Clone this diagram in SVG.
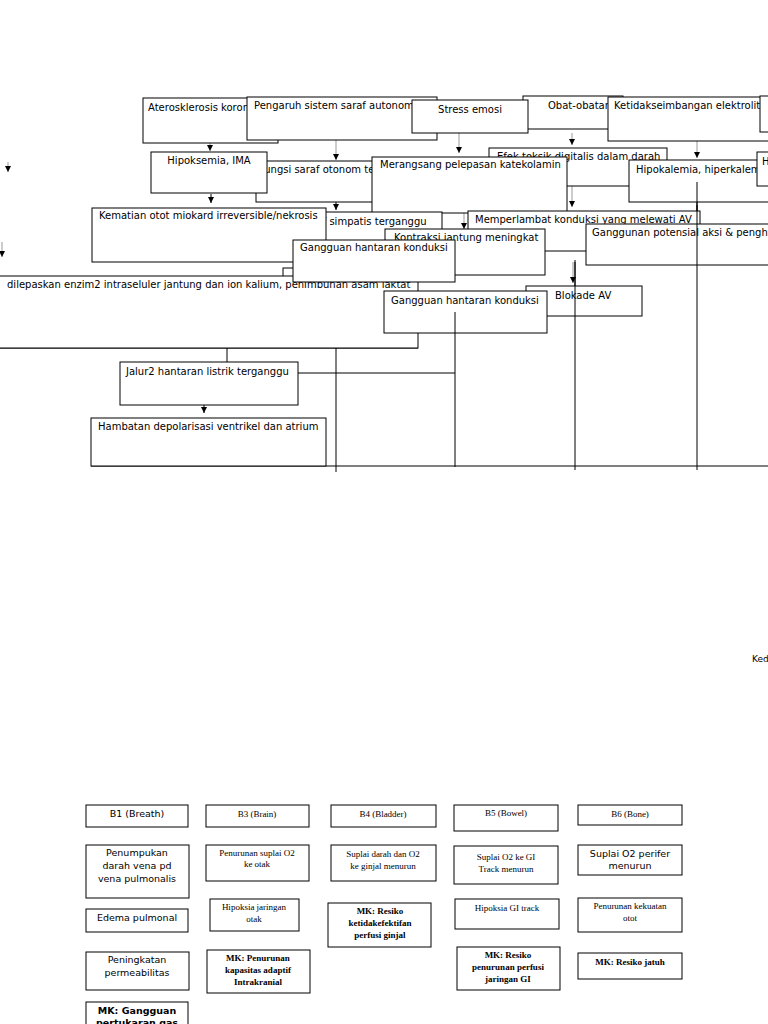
<svg xmlns="http://www.w3.org/2000/svg" width="768" height="1024" viewBox="0 0 768 1024">
<style>
rect{fill:#fff;stroke:#000;stroke-width:1}
text{font-family:"DejaVu Sans",sans-serif;font-size:10px;fill:#000}
.s{font-family:"Liberation Serif",serif;font-size:9px;text-anchor:middle}
.b{font-weight:bold}
.c{text-anchor:middle}
.l{stroke:#000;stroke-width:1;fill:none}
.g{stroke:#999;stroke-width:1}
</style>
<defs><marker id="a" markerWidth="6" markerHeight="6" refX="3" refY="5" orient="auto" markerUnits="userSpaceOnUse"><path d="M0,0 L6,0 L3,6 Z" fill="#000" transform="rotate(-90 3 3)"/></marker>
<marker id="d" markerWidth="6" markerHeight="6" refX="3" refY="6" markerUnits="userSpaceOnUse"><path d="M0,0 L6,0 L3,6 Z" fill="#000"/></marker></defs>
<rect x="-2" y="-2" width="772" height="1028" style="fill:#fff;stroke:none"/>
<g id="connectors">
<line class="l" x1="91" y1="466" x2="768" y2="466"/>
<line class="l" x1="336" y1="328" x2="336" y2="472"/>
<line class="l" x1="455" y1="312" x2="455" y2="467"/>
<line class="l" x1="575" y1="260" x2="575" y2="470"/>
<line class="l" x1="697" y1="182" x2="697" y2="470"/>
<line class="l" x1="298" y1="373" x2="455" y2="373"/>
<line class="l" x1="0" y1="348" x2="418" y2="348"/>
<line class="l" x1="227" y1="348" x2="227" y2="362"/>
<line class="g" x1="210" y1="143" x2="210" y2="151" marker-end="url(#d)"/>
<line class="g" x1="336" y1="140" x2="336" y2="160" marker-end="url(#d)"/>
<line class="g" x1="459" y1="133" x2="459" y2="153" marker-end="url(#d)"/>
<line class="g" x1="572" y1="133" x2="572" y2="145" marker-end="url(#d)"/>
<line class="g" x1="697" y1="141" x2="697" y2="158" marker-end="url(#d)"/>
<line class="l" x1="211" y1="194" x2="211" y2="203" marker-end="url(#d)"/>
<line class="l" x1="336" y1="196" x2="336" y2="210" marker-end="url(#d)"/>
<line class="l" x1="260" y1="172" x2="260" y2="187" marker-end="url(#d)"/>
<line class="g" x1="8" y1="162" x2="8" y2="172" marker-end="url(#d)"/>
<line class="g" x1="2" y1="242" x2="2" y2="257" marker-end="url(#d)"/>
<line class="g" x1="464" y1="208" x2="464" y2="229" marker-end="url(#d)"/>
<line class="g" x1="572" y1="186" x2="572" y2="207" marker-end="url(#d)"/>
<line class="g" x1="573" y1="262" x2="573" y2="283" marker-end="url(#d)"/>
<line class="l" x1="697" y1="205" x2="697" y2="217" marker-end="url(#d)"/>
<line class="l" x1="204" y1="405" x2="204" y2="413" marker-end="url(#d)"/>
</g>
<g id="n1"><rect x="143" y="98" width="135" height="45"/><text x="148" y="111">Aterosklerosis koroner</text></g>
<g id="n2"><rect x="247" y="97" width="190" height="43"/><text x="254" y="109">Pengaruh sistem saraf autonom</text></g>
<g id="n4"><rect x="523" y="96" width="100" height="33"/><text x="548" y="109">Obat-obatan</text></g>
<g id="n5"><rect x="608" y="97" width="165" height="44"/><text x="614" y="109">Ketidakseimbangan elektrolit</text></g>
<g id="n5b"><rect x="760" y="96" width="20" height="36"/></g>
<g id="n3"><rect x="412" y="100" width="116" height="33"/><text x="470" y="113" class="c">Stress emosi</text></g>
<g id="n6"><rect x="256" y="161" width="150" height="41"/><text x="259" y="173">Fungsi saraf otonom terganggu</text></g>
<g id="n7"><rect x="151" y="152" width="116" height="41"/><text x="209" y="164" class="c">Hipoksemia, IMA</text></g>
<g id="n8"><rect x="489" y="148" width="178" height="38"/><text x="497" y="160">Efek toksik digitalis dalam darah</text></g>
<g id="n9"><rect x="372" y="157" width="195" height="56"/><text x="380" y="168">Merangsang pelepasan katekolamin</text></g>
<g id="n10"><rect x="629" y="160" width="150" height="42"/><text x="636" y="173">Hipokalemia, hiperkalemia</text></g>
<g id="n11"><rect x="757" y="152" width="20" height="34"/><text x="762" y="165">H</text></g>
<g id="n12"><rect x="290" y="212" width="152" height="40"/><text x="300" y="225">Saraf simpatis terganggu</text></g>
<g id="n13"><rect x="468" y="211" width="232" height="40"/><text x="475" y="223">Memperlambat konduksi yang melewati AV</text></g>
<g id="n14"><rect x="92" y="208" width="234" height="54"/><text x="99" y="219">Kematian otot miokard irreversible/nekrosis</text></g>
<g id="n15"><rect x="385" y="229" width="160" height="46"/><text x="394" y="241">Kontraksi jantung meningkat</text></g>
<g id="n16"><rect x="586" y="224" width="190" height="41"/><text x="592" y="236">Ganggunan potensial aksi &amp; penghantaran</text></g>
<g id="n17s"><rect x="283" y="268" width="14" height="10"/></g>
<g id="n17"><rect x="-2" y="276" width="420" height="72"/><text x="7" y="288">dilepaskan enzim2 intraseluler jantung dan ion kalium, penimbunan asam laktat</text></g>
<g id="n18"><rect x="293" y="240" width="162" height="42"/><text x="300" y="251">Gangguan hantaran konduksi</text></g>
<g id="n19"><rect x="526" y="286" width="116" height="30"/><text x="555" y="299">Blokade AV</text></g>
<g id="n20"><rect x="384" y="291" width="163" height="42"/><text x="391" y="304">Gangguan hantaran konduksi</text></g>
<line class="l" x1="455" y1="312" x2="455" y2="333"/>
<line class="l" x1="575" y1="262" x2="575" y2="316"/>
<line class="l" x1="697" y1="182" x2="697" y2="265"/>
<g id="n21"><rect x="120" y="362" width="178" height="43"/><text x="126" y="375">Jalur2 hantaran listrik terganggu</text></g>
<g id="n22"><rect x="91" y="418" width="235" height="48"/><text x="98" y="430">Hambatan depolarisasi ventrikel dan atrium</text></g>
<text x="752" y="662" style="font-size:9px">Ked</text>
<g id="b1">
<rect x="86" y="805" width="102" height="22"/><text x="137" y="817" class="c" style="font-size:9.5px">B1 (Breath)</text>
<rect x="86" y="845" width="103" height="53"/><text class="c" style="font-size:9.5px"><tspan x="137" y="856">Penumpukan</tspan><tspan x="137" y="869">darah vena pd</tspan><tspan x="137" y="882">vena pulmonalis</tspan></text>
<rect x="86" y="909" width="102" height="23"/><text x="137" y="921" class="c" style="font-size:9.5px">Edema pulmonal</text>
<rect x="86" y="952" width="103" height="38"/><text class="c" style="font-size:9.5px"><tspan x="137" y="963">Peningkatan</tspan><tspan x="137" y="976">permeabilitas</tspan></text>
<rect x="86" y="1002" width="102" height="30"/><text x="137" y="1014" class="c b" style="font-size:9.5px">MK: Gangguan</text><text x="137" y="1026" class="c b" style="font-size:9.5px">pertukaran gas</text>
</g>
<g id="b3">
<rect x="206" y="805" width="103" height="22"/><text x="257" y="817" class="s">B3 (Brain)</text>
<rect x="206" y="845" width="103" height="36"/><text class="s"><tspan x="257" y="856">Penurunan suplai O2</tspan><tspan x="257" y="867">ke otak</tspan></text>
<rect x="210" y="899" width="89" height="32"/><text class="s"><tspan x="254" y="910">Hipoksia jaringan</tspan><tspan x="254" y="922">otak</tspan></text>
<rect x="207" y="950" width="103" height="43"/><text class="s b"><tspan x="258" y="961">MK: Penurunan</tspan><tspan x="258" y="973">kapasitas adaptif</tspan><tspan x="258" y="985">Intrakranial</tspan></text>
</g>
<g id="b4">
<rect x="331" y="805" width="105" height="22"/><text x="383" y="817" class="s">B4 (Bladder)</text>
<rect x="331" y="845" width="105" height="36"/><text class="s"><tspan x="383" y="857">Suplai darah dan O2</tspan><tspan x="383" y="869">ke ginjal menurun</tspan></text>
<rect x="328" y="903" width="103" height="44"/><text class="s b"><tspan x="380" y="914">MK: Resiko</tspan><tspan x="380" y="926">ketidakefektifan</tspan><tspan x="380" y="938">perfusi ginjal</tspan></text>
</g>
<g id="b5">
<rect x="454" y="805" width="104" height="26"/><text x="506" y="816" class="s">B5 (Bowel)</text>
<rect x="454" y="846" width="104" height="38"/><text class="s"><tspan x="506" y="860">Suplai O2 ke GI</tspan><tspan x="506" y="872">Track menurun</tspan></text>
<rect x="455" y="899" width="104" height="30"/><text x="507" y="911" class="s">Hipoksia GI track</text>
<rect x="457" y="947" width="103" height="43"/><text class="s b"><tspan x="508" y="958">MK:  Resiko</tspan><tspan x="508" y="970">penurunan perfusi</tspan><tspan x="508" y="982">jaringan GI</tspan></text>
</g>
<g id="b6">
<rect x="578" y="805" width="104" height="20"/><text x="630" y="817" class="s">B6 (Bone)</text>
<rect x="578" y="845" width="104" height="30"/><text class="c" style="font-size:9.5px"><tspan x="630" y="857">Suplai O2 perifer</tspan><tspan x="630" y="869">menurun</tspan></text>
<rect x="578" y="898" width="104" height="34"/><text class="s"><tspan x="630" y="909">Penurunan kekuatan</tspan><tspan x="630" y="921">otot</tspan></text>
<rect x="578" y="953" width="104" height="26"/><text x="630" y="965" class="s b">MK: Resiko jatuh</text>
</g>
</svg>
